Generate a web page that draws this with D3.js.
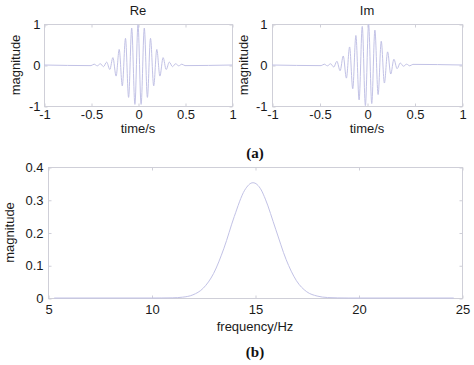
<!DOCTYPE html>
<html>
<head>
<meta charset="utf-8">
<script src="https://cdn.jsdelivr.net/npm/d3@7"></script>
<style>
  body { margin: 0; background: #fff; }
  svg { display: block; font-family: "Liberation Sans", Arial, sans-serif; }
  .tick text { font-size: 13px; fill: #1a1a1a; }
  .tick line { stroke: #cfcfd8; }
  .lab { font-size: 13px; fill: #1a1a1a; }
  .cap { font-family: "Liberation Serif", "Times New Roman", serif; font-weight: bold; font-size: 15px; fill: #111; }
</style>
</head>
<body>
<svg id="chart" width="474" height="365"></svg>
<script>
const reTime = [-1, -0.5, -0.467, -0.433, -0.4, -0.367, -0.333, -0.3, -0.267, -0.233, -0.2, -0.167, -0.133, -0.1, -0.067, -0.033,
  0, 0.033, 0.067, 0.1, 0.133, 0.167, 0.2, 0.233, 0.267, 0.3, 0.333, 0.367, 0.4, 0.433, 0.467, 0.5, 1];
const reValue = [0, -0.015, 0.02, -0.02, 0.03, -0.04, 0.07, -0.11, 0.18, -0.27, 0.38, -0.51, 0.65, -0.79, 0.9, -0.96,
  0.98, -0.96, 0.9, -0.79, 0.65, -0.51, 0.38, -0.27, 0.18, -0.11, 0.07, -0.04, 0.03, -0.02, 0.02, -0.015, 0];

// Im: extrema of the imaginary part
const imTime = [-1, -0.483, -0.45, -0.417, -0.383, -0.35, -0.317, -0.283, -0.25, -0.217, -0.183, -0.15, -0.117, -0.083, -0.05, -0.017,
  0.017, 0.05, 0.083, 0.117, 0.15, 0.183, 0.217, 0.25, 0.283, 0.317, 0.35, 0.383, 0.417, 0.45, 0.483, 1];
const imValue = [0, -0.015, 0.02, -0.02, 0.03, -0.05, 0.09, -0.14, 0.22, -0.32, 0.44, -0.58, 0.72, -0.85, 0.94, -0.99,
  0.99, -0.94, 0.85, -0.72, 0.58, -0.44, 0.32, -0.22, 0.14, -0.09, 0.05, -0.03, 0.02, -0.02, 0.015, 0];

// spectrum magnitude
const freq = [5.3, 10, 10.5, 11, 11.5, 12, 12.5, 13, 13.5, 14, 14.5, 14.9, 15.3, 15.5, 16, 16.5, 17, 17.5, 18, 18.5, 19, 19.5, 24.6];
const spec = [0, 0, 0.0001, 0.0005, 0.0025, 0.0096, 0.03, 0.075, 0.152, 0.249, 0.329, 0.352, 0.33, 0.302, 0.21, 0.118, 0.053, 0.019, 0.006, 0.0014, 0.0003, 0, 0];

const timeTicks = [-1, -0.5, 0, 0.5, 1];
const ampTicks = [-1, 0, 1];
const freqTicks = [5, 10, 15, 20, 25];
const magTicks = [0, 0.1, 0.2, 0.3, 0.4];

const svg = d3.select("#chart");
const lineColor = "#c2c2e6";
const boxColor = "#cfcfd8";

function panel(box, xDomain, yDomain, xTicks, yTicks, xs, ys, opts) {
  const x = d3.scaleLinear().domain(xDomain).range([box.l, box.r]);
  const y = d3.scaleLinear().domain(yDomain).range([box.b, box.t]);
  const fmt = d => String(d);

  // box
  svg.append("rect")
    .attr("x", box.l + 0.5).attr("y", box.t + 0.5)
    .attr("width", box.r - box.l).attr("height", box.b - box.t)
    .attr("fill", "none").attr("stroke", boxColor);

  // axes with inward ticks, mirrored on top/right
  const gx = svg.append("g").attr("transform", `translate(0.5,${box.b + 0.5})`)
    .call(d3.axisBottom(x).tickValues(xTicks).tickSize(-3).tickPadding(opts.xPad).tickFormat(fmt));
  const gxt = svg.append("g").attr("transform", `translate(0.5,${box.t + 0.5})`)
    .call(d3.axisTop(x).tickValues(xTicks).tickSize(-3).tickFormat(""));
  const gy = svg.append("g").attr("transform", `translate(${box.l + 0.5},0.5)`)
    .call(d3.axisLeft(y).tickValues(yTicks).tickSize(-3).tickPadding(opts.yPad).tickFormat(fmt));
  const gyr = svg.append("g").attr("transform", `translate(${box.r + 0.5},0.5)`)
    .call(d3.axisRight(y).tickValues(yTicks).tickSize(-3).tickFormat(""));
  [gx, gxt, gy, gyr].forEach(g => {
    g.select(".domain").remove();
    g.attr("font-family", null).attr("font-size", null);
  });

  // curve
  const line = d3.line()
    .x((d, i) => x(xs[i]))
    .y((d, i) => y(ys[i]))
    .curve(d3.curveMonotoneX);
  svg.append("path")
    .datum(xs)
    .attr("d", line)
    .attr("fill", "none")
    .attr("stroke", lineColor)
    .attr("stroke-width", 1);

  // labels
  const cx = (box.l + box.r) / 2;
  const cy = (box.t + box.b) / 2;
  if (opts.title) {
    svg.append("text").attr("class", "lab")
      .attr("x", cx).attr("y", box.t - 9).attr("text-anchor", "middle")
      .text(opts.title);
  }
  svg.append("text").attr("class", "lab")
    .attr("x", cx).attr("y", box.b + opts.xLabDy).attr("text-anchor", "middle")
    .text(opts.xLabel);
  svg.append("text").attr("class", "lab")
    .attr("transform", `translate(${opts.yLabX},${cy}) rotate(-90)`)
    .attr("text-anchor", "middle")
    .text(opts.yLabel);
}

panel({ l: 44, r: 232, t: 24, b: 106 }, [-1, 1], [-1, 1], timeTicks, ampTicks, reTime, reValue,
  { title: "Re", xLabel: "time/s", yLabel: "magnitude", xLabDy: 27, yLabX: 20, xPad: 3, yPad: 4 });
panel({ l: 272, r: 462, t: 24, b: 106 }, [-1, 1], [-1, 1], timeTicks, ampTicks, imTime, imValue,
  { title: "Im", xLabel: "time/s", yLabel: "magnitude", xLabDy: 27, yLabX: 248, xPad: 3, yPad: 5 });
panel({ l: 48, r: 462, t: 167, b: 298 }, [5, 25], [0, 0.4], freqTicks, magTicks, freq, spec,
  { xLabel: "frequency/Hz", yLabel: "magnitude", xLabDy: 33, yLabX: 14, xPad: 6, yPad: 5 });

svg.append("text").attr("class", "cap").attr("x", 255).attr("y", 158).attr("text-anchor", "middle").text("(a)");
svg.append("text").attr("class", "cap").attr("x", 255).attr("y", 357).attr("text-anchor", "middle").text("(b)");
</script>
</body>
</html>
